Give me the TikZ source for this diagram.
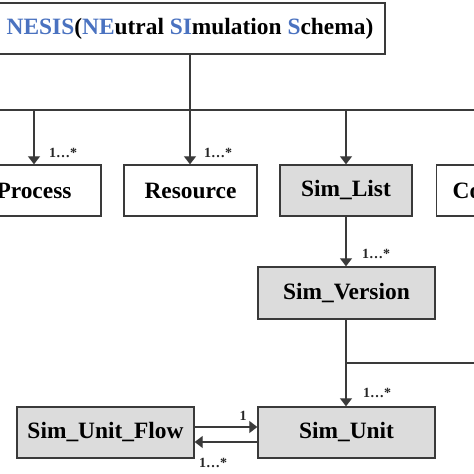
\documentclass[tikz,border=0pt]{standalone}
\usepackage{fontspec}
\setmainfont{Liberation Serif}
\usetikzlibrary{arrows.meta}
\definecolor{nblue}{HTML}{4A72C0}
\definecolor{lncol}{HTML}{3A3A3A}
\definecolor{boxgray}{HTML}{DCDCDC}
\tikzset{
  box/.style={draw=lncol, line width=1.4bp, minimum height=51bp, inner sep=0pt,
    font=\fontsize{23.4bp}{28bp}\selectfont\bfseries},
  graybox/.style={box, fill=boxgray},
  conn/.style={draw=lncol, line width=1.3bp},
  arr/.style={conn, -{Triangle[width=12bp,length=8bp]}},
  mult/.style={font=\fontsize{14bp}{16bp}\selectfont\bfseries, inner sep=0pt, text=black!85}
}
\begin{document}
\begin{tikzpicture}[x=1bp,y=-1bp]
\useasboundingbox (0,0) rectangle (474,474);
\clip (0,0) rectangle (474,474);
\fill[white] (0,0) rectangle (474,474);
% title
\node[box, fill=white, minimum width=390bp] (nesis) at (190,28.5)
  {\textcolor{nblue}{NESIS}(\textcolor{nblue}{NE}utral \textcolor{nblue}{SI}mulation \textcolor{nblue}{S}chema)};
% row 2
\node[box, fill=white, minimum width=134bp] (process) at (34,190.5) {Process};
\node[box, fill=white, minimum width=133bp] (resource) at (190.5,190.5) {Resource};
\node[graybox, minimum width=132bp] (simlist) at (346,190.5) {Sim\_List};
\node[box, fill=white, minimum width=133bp, anchor=west, inner xsep=16bp, text width=101bp, align=left] (co) at (436,190.5) {Co};
% lower
\node[graybox, minimum width=177bp, minimum height=52bp] (simversion) at (346.5,293) {Sim\_Version};
\node[graybox, minimum width=177bp] (simunit) at (346.5,432.5) {Sim\_Unit};
\node[graybox, minimum width=177bp] (simunitflow) at (105.5,432.5) {Sim\_Unit\_Flow};
% coordinates
\coordinate (bus) at (190,110);
\coordinate (busL) at (-2,110);
\coordinate (busR) at (476,110);
\coordinate (jP) at (34,110);
\coordinate (jL) at (346,110);
\coordinate (jV) at (346,363);
\coordinate (jVR) at (476,363);
% connectors
\draw[conn] (nesis.south -| bus) -- (bus);
\draw[conn] (busL) -- (busR);
\draw[arr] (jP) -- (process.north -| jP);
\draw[arr] (bus) -- (resource.north -| bus);
\draw[arr] (jL) -- (simlist.north -| jL);
\draw[arr] (simlist.south -| jL) -- (simversion.north -| jL);
\draw[arr] (simversion.south -| jL) -- (simunit.north -| jL);
\draw[conn] (jV) -- (jVR);
\draw[arr] ([yshift=5.5bp]simunitflow.east) -- ([yshift=5.5bp]simunit.west);
\draw[arr] ([yshift=-9.5bp]simunit.west) -- ([yshift=-9.5bp]simunitflow.east);
% multiplicities
\node[mult] (m1) at (63,153) {1…*};
\node[mult] (m2) at (218,153) {1…*};
\node[mult] (m3) at (376,254) {1…*};
\node[mult] (m4) at (377,393) {1…*};
\node[mult] (m5) at (243,416) {1};
\node[mult] (m6) at (213,463) {1…*};
\end{tikzpicture}
\end{document}
